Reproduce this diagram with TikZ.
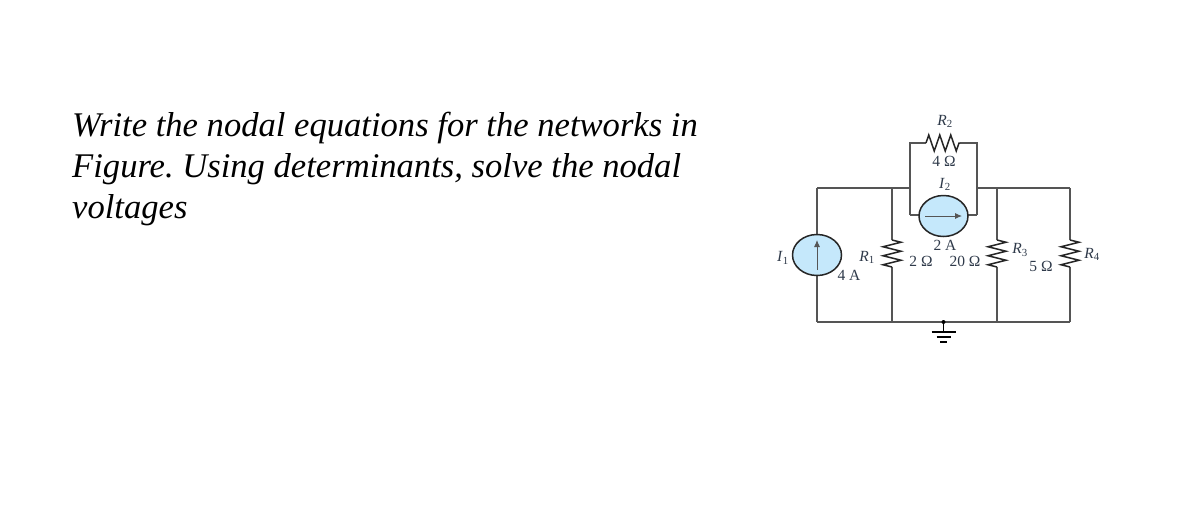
\documentclass[tikz,border=0pt]{standalone}
\usepackage{fontspec}
\setmainfont{Liberation Serif}
\usetikzlibrary{decorations.pathmorphing,arrows.meta,shapes.geometric}
\definecolor{wire}{HTML}{555555}
\definecolor{srcfill}{HTML}{C5E8FB}
\definecolor{lbl}{HTML}{2F3A4A}
\tikzset{
  wireline/.style={draw=wire,line width=1.05pt},
  resH/.style={draw=black!85,line width=1.5pt,decorate,decoration={zigzag,segment length=11pt,amplitude=8pt}},
  resV/.style={draw=black!85,line width=1.5pt,decorate,decoration={zigzag,segment length=9pt,amplitude=9pt}},
  srcshape/.style={ellipse,draw=black!85,line width=1.5pt,fill=srcfill,minimum width=49pt,minimum height=41pt,inner sep=0pt},
  srcarrow/.style={draw=wire,line width=0.9pt,-{Latex[length=7pt,width=6pt]}},
  lab/.style={text=lbl,font=\fontsize{15.5}{17}\selectfont,inner sep=0pt},
  headline/.style={anchor=base west,inner sep=0pt,font=\fontsize{34.6}{40}\selectfont\itshape},
  gplate/.style={draw=black,line width=1.7pt}
}
\begin{document}
\begin{tikzpicture}[x=1pt,y=-1pt]
\frenchspacing
\useasboundingbox (0,0) rectangle (1179,504);
\node[headline] (t1) at (72,136) {Write the nodal equations for the networks in};
\node[headline] (t2) at (72,177) {Figure. Using determinants, solve the nodal};
\node[headline] (t3) at (72,218) {voltages};
% junctions
\coordinate (tl) at (817,188);
\coordinate (ta) at (892,188);
\coordinate (tb) at (910,188);
\coordinate (tc) at (977,188);
\coordinate (td) at (997,188);
\coordinate (te) at (1070,188);
\coordinate (bl) at (817,322);
\coordinate (ba) at (892,322);
\coordinate (bg) at (943.5,322);
\coordinate (bd) at (997,322);
\coordinate (be) at (1070,322);
\coordinate (lt) at (910,143);
\coordinate (rt) at (977,143);
\coordinate (lm) at (910,215);
\coordinate (rm) at (977,215);
\coordinate (r2a) at (926,143);
\coordinate (r2b) at (960,143);
\coordinate (r1a) at (892,240);
\coordinate (r1b) at (892,267);
\coordinate (r3a) at (997,240);
\coordinate (r3b) at (997,267);
\coordinate (r4a) at (1070,240);
\coordinate (r4b) at (1070,267);
\coordinate (gt) at (943.5,331);
\coordinate (g1a) at (931.5,332);\coordinate (g1b) at (955.5,332);
\coordinate (g2a) at (936.5,337);\coordinate (g2b) at (950.5,337);
\coordinate (g3a) at (940,342);\coordinate (g3b) at (947,342);
% wires
\draw[wireline] (tl) -- (ta) -- (tb);
\draw[wireline] (tc) -- (td) -- (te);
\draw[wireline] (bl) -- (ba) -- (bd) -- (be);
\draw[wireline] (tb) -- (lt) -- (r2a);
\draw[wireline] (tc) -- (rt) -- (r2b);
\draw[wireline] (tb) -- (lm);
\draw[wireline] (tc) -- (rm);
\draw[wireline] (ta) -- (r1a); \draw[wireline] (r1b) -- (ba);
\draw[wireline] (td) -- (r3a); \draw[wireline] (r3b) -- (bd);
\draw[wireline] (te) -- (r4a); \draw[wireline] (r4b) -- (be);
% sources
\draw[wireline] (tl) -- (bl);
\draw[wireline] (lm) -- (rm);
\node[srcshape] (s1) at (817,255) {};
\node[srcshape] (s2) at (943.5,216) {};
\coordinate (a1s) at (817,270);\coordinate (a1e) at (817,240);
\coordinate (a2s) at (925,216);\coordinate (a2e) at (962,216);
\draw[srcarrow] (a1s) -- (a1e);
\draw[srcarrow] (a2s) -- (a2e);
% resistors
\draw[resH] (r2a) -- (r2b);
\draw[resV] (r1a) -- (r1b);
\draw[resV] (r3a) -- (r3b);
\draw[resV] (r4a) -- (r4b);
% ground
\fill[black] (bg) circle (2pt);
\draw[black,line width=1.2pt] (bg) -- (gt);
\draw[gplate] (g1a) -- (g1b);
\draw[gplate] (g2a) -- (g2b);
\draw[gplate] (g3a) -- (g3b);
% labels
\node[lab] (lr2) at (945,121.5) {\textit{R}\textsubscript{2}};
\node[lab] (l4) at (944,161.5) {4 Ω};
\node[lab] (li2) at (945,184.5) {\textit{I}\textsubscript{2}};
\node[lab] (l2a) at (945,245.5) {2 A};
\node[lab] (l2o) at (921,261.5) {2 Ω};
\node[lab] (l20) at (965,261.5) {20 Ω};
\node[lab] (li1) at (783,258) {\textit{I}\textsubscript{1}};
\node[lab] (l4a) at (849,275.5) {4 A};
\node[lab] (lr1) at (867,257.5) {\textit{R}\textsubscript{1}};
\node[lab] (lr3) at (1020,250) {\textit{R}\textsubscript{3}};
\node[lab] (l5) at (1041,266.5) {5 Ω};
\node[lab] (lr4) at (1092,254.5) {\textit{R}\textsubscript{4}};
\end{tikzpicture}
\end{document}
